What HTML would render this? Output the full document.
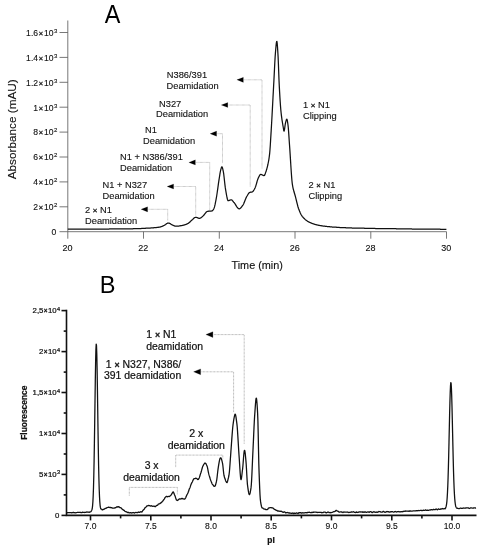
<!DOCTYPE html>
<html><head><meta charset="utf-8"><title>Figure</title>
<style>html,body{margin:0;padding:0;background:#fff}svg{display:block}</style>
</head><body>
<svg width="484" height="550" viewBox="0 0 484 550">
<rect width="484" height="550" fill="#fff"/>
<g id="chartA" font-family="'Liberation Sans', sans-serif" fill="#111" stroke="#111" stroke-width="0.12">
<g stroke="#555" stroke-width="0.8" fill="none">
<path d="M67.8,20.5 V231.7 H446.5"/>
<path d="M59.5,231.7 H67.8"/>
<path d="M59.5,206.8 H67.8"/>
<path d="M59.5,181.9 H67.8"/>
<path d="M59.5,157.0 H67.8"/>
<path d="M59.5,132.1 H67.8"/>
<path d="M59.5,107.2 H67.8"/>
<path d="M59.5,82.3 H67.8"/>
<path d="M59.5,57.4 H67.8"/>
<path d="M59.5,32.5 H67.8"/>
<path d="M67.8,231.7 V238.7"/>
<path d="M143.5,231.7 V238.7"/>
<path d="M219.3,231.7 V238.7"/>
<path d="M295.0,231.7 V238.7"/>
<path d="M370.8,231.7 V238.7"/>
<path d="M446.5,231.7 V238.7"/>
</g>
<text x="56.2" y="235.0" font-size="8.6" text-anchor="end">0</text>
<text x="57.4" y="210.1" font-size="8.6" text-anchor="end">2<tspan dx="0.7" font-size="7.4" font-weight="bold">×</tspan><tspan dx="0.9">10</tspan><tspan font-size="6" dx="0.5" dy="-3">2</tspan></text>
<text x="57.4" y="185.2" font-size="8.6" text-anchor="end">4<tspan dx="0.7" font-size="7.4" font-weight="bold">×</tspan><tspan dx="0.9">10</tspan><tspan font-size="6" dx="0.5" dy="-3">2</tspan></text>
<text x="57.4" y="160.3" font-size="8.6" text-anchor="end">6<tspan dx="0.7" font-size="7.4" font-weight="bold">×</tspan><tspan dx="0.9">10</tspan><tspan font-size="6" dx="0.5" dy="-3">2</tspan></text>
<text x="57.4" y="135.4" font-size="8.6" text-anchor="end">8<tspan dx="0.7" font-size="7.4" font-weight="bold">×</tspan><tspan dx="0.9">10</tspan><tspan font-size="6" dx="0.5" dy="-3">2</tspan></text>
<text x="57.4" y="110.5" font-size="8.6" text-anchor="end">1<tspan dx="0.7" font-size="7.4" font-weight="bold">×</tspan><tspan dx="0.9">10</tspan><tspan font-size="6" dx="0.5" dy="-3">3</tspan></text>
<text x="57.4" y="85.6" font-size="8.6" text-anchor="end">1.2<tspan dx="0.7" font-size="7.4" font-weight="bold">×</tspan><tspan dx="0.9">10</tspan><tspan font-size="6" dx="0.5" dy="-3">3</tspan></text>
<text x="57.4" y="60.7" font-size="8.6" text-anchor="end">1.4<tspan dx="0.7" font-size="7.4" font-weight="bold">×</tspan><tspan dx="0.9">10</tspan><tspan font-size="6" dx="0.5" dy="-3">3</tspan></text>
<text x="57.4" y="35.8" font-size="8.6" text-anchor="end">1.6<tspan dx="0.7" font-size="7.4" font-weight="bold">×</tspan><tspan dx="0.9">10</tspan><tspan font-size="6" dx="0.5" dy="-3">3</tspan></text>
<text x="67.5" y="250.5" font-size="9" text-anchor="middle">20</text>
<text x="143.2" y="250.5" font-size="9" text-anchor="middle">22</text>
<text x="219.0" y="250.5" font-size="9" text-anchor="middle">24</text>
<text x="294.7" y="250.5" font-size="9" text-anchor="middle">26</text>
<text x="370.5" y="250.5" font-size="9" text-anchor="middle">28</text>
<text x="446.2" y="250.5" font-size="9" text-anchor="middle">30</text>
<text x="257.2" y="269.4" font-size="10.85" text-anchor="middle">Time (min)</text>
<text transform="translate(15.8,129.3) rotate(-90)" font-size="11.75" text-anchor="middle">Absorbance (mAU)</text>
<text transform="translate(112.65,23.2) scale(1,1.12)" font-size="23.4" text-anchor="middle" fill="#000" stroke="none">A</text>
<path d="M148.6,209.3 H167.7 V220.5" fill="none" stroke="#9c9c9c" stroke-width="0.7" stroke-dasharray="0.7 0.5"/>
<path d="M141,209.3 L147.6,206.70000000000002 V211.9 Z" fill="#000"/>
<path d="M174.6,186.5 H195.7 V215.5" fill="none" stroke="#9c9c9c" stroke-width="0.7" stroke-dasharray="0.7 0.5"/>
<path d="M167,186.5 L173.6,183.9 V189.1 Z" fill="#000"/>
<path d="M196.4,162.4 H209.7 V210.6" fill="none" stroke="#9c9c9c" stroke-width="0.7" stroke-dasharray="0.7 0.5"/>
<path d="M188.8,162.4 L195.4,159.8 V165.0 Z" fill="#000"/>
<path d="M217.6,133.7 H222.5 V163.5" fill="none" stroke="#9c9c9c" stroke-width="0.7" stroke-dasharray="0.7 0.5"/>
<path d="M210,133.7 L216.6,131.1 V136.29999999999998 Z" fill="#000"/>
<path d="M228.79999999999998,105 H250.2 V187" fill="none" stroke="#9c9c9c" stroke-width="0.7" stroke-dasharray="0.7 0.5"/>
<path d="M221.2,105 L227.79999999999998,102.4 V107.6 Z" fill="#000"/>
<path d="M244.4,79.8 H262.0 V168.4" fill="none" stroke="#9c9c9c" stroke-width="0.7" stroke-dasharray="0.7 0.5"/>
<path d="M236.8,79.8 L243.4,77.2 V82.39999999999999 Z" fill="#000"/>
<text font-size="9.3" text-anchor="start"><tspan x="85" y="212.8">2 <tspan font-size="0.84em" font-weight="bold">×</tspan> N1</tspan><tspan x="85" y="223.70000000000002">Deamidation</tspan></text>
<text font-size="9.3" text-anchor="start"><tspan x="102.5" y="188.0">N1 + N327</tspan><tspan x="102.5" y="198.9">Deamidation</tspan></text>
<text font-size="9.3" text-anchor="start"><tspan x="120" y="160.4">N1 + N386/391</tspan><tspan x="120" y="171.0">Deamidation</tspan></text>
<text font-size="9.3" text-anchor="start"><tspan x="145" y="132.9">N1</tspan><tspan x="143" y="143.5">Deamidation</tspan></text>
<text font-size="9.3" text-anchor="start"><tspan x="159" y="106.6">N327</tspan><tspan x="156" y="117.3">Deamidation</tspan></text>
<text font-size="9.3" text-anchor="start"><tspan x="166.8" y="77.5">N386/391</tspan><tspan x="166.5" y="88.7">Deamidation</tspan></text>
<text font-size="9.3" text-anchor="start"><tspan x="303" y="108.2">1 <tspan font-size="0.84em" font-weight="bold">×</tspan> N1</tspan><tspan x="303" y="118.8">Clipping</tspan></text>
<text font-size="9.3" text-anchor="start"><tspan x="308.5" y="187.9">2 <tspan font-size="0.84em" font-weight="bold">×</tspan> N1</tspan><tspan x="308.5" y="199.0">Clipping</tspan></text>
<path d="M67.8,229.2 L68.1,229.2 L68.4,229.2 L68.7,229.2 L69.0,229.2 L69.3,229.2 L69.6,229.2 L69.9,229.2 L70.2,229.2 L70.5,229.2 L70.8,229.2 L71.1,229.2 L71.4,229.2 L71.7,229.2 L72.0,229.2 L72.3,229.2 L72.6,229.2 L72.9,229.2 L73.2,229.2 L73.5,229.2 L73.8,229.2 L74.1,229.2 L74.4,229.2 L74.7,229.2 L75.0,229.2 L75.3,229.2 L75.6,229.2 L75.9,229.2 L76.2,229.1 L76.5,229.1 L76.8,229.1 L77.1,229.1 L77.4,229.1 L77.7,229.1 L78.0,229.1 L78.3,229.1 L78.6,229.1 L78.9,229.1 L79.2,229.1 L79.5,229.1 L79.8,229.1 L80.1,229.1 L80.4,229.1 L80.7,229.1 L81.0,229.1 L81.3,229.1 L81.6,229.1 L81.9,229.1 L82.2,229.1 L82.5,229.1 L82.8,229.1 L83.1,229.1 L83.4,229.1 L83.7,229.1 L84.0,229.1 L84.3,229.1 L84.6,229.1 L84.9,229.1 L85.2,229.1 L85.5,229.1 L85.8,229.1 L86.1,229.1 L86.4,229.1 L86.7,229.1 L87.0,229.1 L87.3,229.1 L87.6,229.1 L87.9,229.1 L88.2,229.1 L88.5,229.1 L88.8,229.1 L89.1,229.1 L89.4,229.1 L89.7,229.1 L90.0,229.1 L90.3,229.1 L90.6,229.1 L90.9,229.1 L91.2,229.1 L91.5,229.1 L91.8,229.1 L92.1,229.1 L92.4,229.0 L92.7,229.0 L93.0,229.0 L93.3,229.0 L93.6,229.0 L93.9,229.0 L94.2,229.0 L94.5,229.0 L94.8,229.0 L95.1,229.0 L95.4,229.0 L95.7,229.0 L96.0,229.0 L96.3,229.0 L96.6,229.0 L96.9,229.0 L97.2,229.0 L97.5,229.0 L97.8,229.0 L98.1,229.0 L98.4,229.0 L98.7,229.0 L99.0,229.0 L99.3,229.0 L99.6,229.0 L99.9,229.0 L100.2,229.0 L100.5,229.0 L100.8,229.0 L101.1,229.0 L101.4,229.0 L101.7,229.0 L102.0,229.0 L102.3,229.0 L102.6,229.0 L102.9,229.0 L103.2,229.0 L103.5,229.0 L103.8,229.0 L104.1,229.0 L104.4,229.0 L104.7,229.0 L105.0,229.0 L105.3,229.0 L105.6,229.0 L105.9,229.0 L106.2,229.0 L106.5,229.0 L106.8,229.0 L107.1,229.0 L107.4,229.0 L107.7,229.0 L108.0,229.0 L108.3,229.0 L108.6,229.0 L108.9,229.0 L109.2,229.0 L109.5,228.9 L109.8,228.9 L110.1,228.9 L110.4,228.9 L110.7,228.9 L111.0,228.9 L111.3,228.9 L111.6,228.9 L111.9,228.9 L112.2,228.9 L112.5,228.9 L112.8,228.9 L113.1,228.9 L113.4,228.9 L113.7,228.9 L114.0,228.9 L114.3,228.9 L114.6,228.9 L114.9,228.9 L115.2,228.9 L115.5,228.9 L115.8,228.9 L116.1,228.9 L116.4,228.9 L116.7,228.9 L117.0,228.9 L117.3,228.9 L117.6,228.9 L117.9,228.9 L118.2,228.9 L118.5,228.9 L118.8,228.9 L119.1,228.9 L119.4,228.9 L119.7,228.9 L120.0,228.9 L120.3,228.9 L120.6,228.9 L120.9,228.9 L121.2,228.9 L121.5,228.9 L121.8,228.9 L122.1,228.9 L122.4,228.9 L122.7,228.9 L123.0,228.9 L123.3,228.9 L123.6,228.9 L123.9,228.9 L124.2,228.9 L124.5,228.9 L124.8,228.9 L125.1,228.9 L125.4,228.8 L125.7,228.8 L126.0,228.8 L126.3,228.8 L126.6,228.8 L126.9,228.8 L127.2,228.8 L127.5,228.8 L127.8,228.8 L128.1,228.8 L128.4,228.8 L128.7,228.8 L129.0,228.8 L129.3,228.8 L129.6,228.8 L129.9,228.8 L130.2,228.8 L130.5,228.8 L130.8,228.8 L131.1,228.8 L131.4,228.8 L131.7,228.8 L132.0,228.8 L132.3,228.8 L132.6,228.8 L132.9,228.8 L133.2,228.7 L133.5,228.7 L133.8,228.7 L134.1,228.7 L134.4,228.7 L134.7,228.7 L135.0,228.7 L135.3,228.7 L135.6,228.7 L135.9,228.7 L136.2,228.7 L136.5,228.7 L136.8,228.6 L137.1,228.6 L137.4,228.6 L137.7,228.6 L138.0,228.6 L138.3,228.6 L138.6,228.6 L138.9,228.6 L139.2,228.6 L139.5,228.5 L139.8,228.5 L140.1,228.5 L140.4,228.5 L140.7,228.5 L141.0,228.5 L141.3,228.5 L141.6,228.4 L141.9,228.4 L142.2,228.4 L142.5,228.4 L142.8,228.4 L143.1,228.4 L143.4,228.4 L143.7,228.3 L144.0,228.3 L144.3,228.3 L144.6,228.3 L144.9,228.3 L145.2,228.3 L145.5,228.3 L145.8,228.2 L146.1,228.2 L146.4,228.2 L146.7,228.2 L147.0,228.2 L147.3,228.2 L147.6,228.1 L147.9,228.1 L148.2,228.1 L148.5,228.1 L148.8,228.1 L149.1,228.1 L149.4,228.0 L149.7,228.0 L150.0,228.0 L150.3,228.0 L150.6,228.0 L150.9,227.9 L151.2,227.9 L151.5,227.9 L151.8,227.9 L152.1,227.9 L152.4,227.8 L152.7,227.8 L153.0,227.8 L153.3,227.8 L153.6,227.8 L153.9,227.7 L154.2,227.7 L154.5,227.7 L154.8,227.7 L155.1,227.6 L155.4,227.6 L155.7,227.6 L156.0,227.5 L156.3,227.5 L156.6,227.5 L156.9,227.4 L157.2,227.4 L157.5,227.4 L157.8,227.3 L158.1,227.3 L158.4,227.3 L158.7,227.2 L159.0,227.2 L159.3,227.1 L159.6,227.1 L159.9,227.0 L160.2,227.0 L160.5,226.9 L160.8,226.8 L161.1,226.7 L161.4,226.6 L161.7,226.5 L162.0,226.4 L162.3,226.3 L162.6,226.1 L162.9,226.0 L163.2,225.9 L163.5,225.7 L163.8,225.6 L164.1,225.5 L164.4,225.3 L164.7,225.1 L165.0,224.9 L165.3,224.7 L165.6,224.5 L165.9,224.2 L166.2,224.0 L166.5,223.8 L166.8,223.6 L167.1,223.4 L167.4,223.2 L167.7,223.1 L168.0,223.0 L168.3,223.0 L168.6,223.0 L168.9,223.1 L169.2,223.2 L169.5,223.3 L169.8,223.5 L170.1,223.6 L170.4,223.8 L170.7,224.0 L171.0,224.2 L171.3,224.4 L171.6,224.6 L171.9,224.8 L172.2,224.9 L172.5,225.0 L172.8,225.2 L173.1,225.3 L173.4,225.5 L173.7,225.6 L174.0,225.7 L174.3,225.8 L174.6,226.0 L174.9,226.1 L175.2,226.1 L175.5,226.2 L175.8,226.2 L176.1,226.2 L176.4,226.2 L176.7,226.2 L177.0,226.2 L177.3,226.1 L177.6,226.1 L177.9,226.1 L178.2,226.1 L178.5,226.0 L178.8,226.0 L179.1,226.0 L179.4,225.9 L179.7,225.9 L180.0,225.8 L180.3,225.8 L180.6,225.7 L180.9,225.7 L181.2,225.6 L181.5,225.6 L181.8,225.5 L182.1,225.5 L182.4,225.4 L182.7,225.4 L183.0,225.3 L183.3,225.2 L183.6,225.2 L183.9,225.1 L184.2,225.0 L184.5,224.9 L184.8,224.8 L185.1,224.7 L185.4,224.6 L185.7,224.5 L186.0,224.4 L186.3,224.3 L186.6,224.1 L186.9,224.0 L187.2,223.9 L187.5,223.7 L187.8,223.6 L188.1,223.4 L188.4,223.3 L188.7,223.1 L189.0,222.8 L189.3,222.6 L189.6,222.3 L189.9,222.0 L190.2,221.7 L190.5,221.4 L190.8,221.1 L191.1,220.8 L191.4,220.5 L191.7,220.2 L192.0,220.0 L192.3,219.7 L192.6,219.5 L192.9,219.2 L193.2,218.9 L193.5,218.6 L193.8,218.3 L194.1,218.1 L194.4,217.8 L194.7,217.6 L195.0,217.5 L195.3,217.4 L195.6,217.3 L195.9,217.3 L196.2,217.3 L196.5,217.4 L196.8,217.5 L197.1,217.6 L197.4,217.7 L197.7,217.9 L198.0,218.0 L198.3,218.1 L198.6,218.2 L198.9,218.3 L199.2,218.3 L199.5,218.3 L199.8,218.3 L200.1,218.2 L200.4,218.0 L200.7,217.9 L201.0,217.7 L201.3,217.4 L201.6,217.2 L201.9,216.9 L202.2,216.7 L202.5,216.4 L202.8,216.2 L203.1,215.9 L203.4,215.6 L203.7,215.3 L204.0,215.0 L204.3,214.6 L204.6,214.2 L204.9,213.8 L205.2,213.4 L205.5,213.0 L205.8,212.6 L206.1,212.3 L206.4,212.0 L206.7,211.8 L207.0,211.6 L207.3,211.4 L207.6,211.4 L207.9,211.3 L208.2,211.3 L208.5,211.2 L208.8,211.2 L209.1,211.1 L209.4,211.1 L209.7,211.1 L210.0,211.1 L210.3,211.0 L210.6,211.0 L210.9,211.0 L211.2,211.0 L211.5,211.0 L211.8,210.9 L212.1,210.9 L212.4,210.7 L212.7,210.4 L213.0,210.1 L213.3,209.6 L213.6,209.1 L213.9,208.5 L214.2,207.8 L214.5,206.9 L214.8,205.7 L215.1,204.4 L215.4,202.9 L215.7,201.4 L216.0,199.8 L216.3,198.2 L216.6,196.5 L216.9,194.5 L217.2,192.5 L217.5,190.4 L217.8,188.3 L218.1,186.1 L218.4,183.9 L218.7,181.9 L219.0,179.9 L219.3,178.0 L219.6,176.1 L219.9,174.1 L220.2,172.4 L220.5,170.9 L220.8,169.7 L221.1,168.6 L221.4,167.6 L221.7,166.9 L222.0,166.8 L222.3,167.4 L222.6,168.3 L222.9,169.6 L223.2,171.0 L223.5,172.6 L223.8,174.7 L224.1,177.2 L224.4,180.0 L224.7,182.8 L225.0,185.4 L225.3,187.7 L225.6,189.6 L225.9,191.3 L226.2,193.1 L226.5,194.9 L226.8,196.5 L227.1,198.0 L227.4,199.2 L227.7,200.1 L228.0,200.6 L228.3,200.7 L228.6,200.7 L228.9,200.6 L229.2,200.5 L229.5,200.3 L229.8,200.2 L230.1,200.1 L230.4,200.0 L230.7,199.9 L231.0,199.8 L231.3,199.8 L231.6,199.9 L231.9,200.1 L232.2,200.3 L232.5,200.7 L232.8,201.0 L233.1,201.4 L233.4,201.8 L233.7,202.2 L234.0,202.5 L234.3,202.8 L234.6,203.2 L234.9,203.7 L235.2,204.1 L235.5,204.6 L235.8,205.1 L236.1,205.6 L236.4,206.1 L236.7,206.6 L237.0,207.0 L237.3,207.4 L237.6,207.8 L237.9,208.1 L238.2,208.4 L238.5,208.6 L238.8,208.8 L239.1,208.8 L239.4,208.8 L239.7,208.7 L240.0,208.5 L240.3,208.3 L240.6,208.0 L240.9,207.7 L241.2,207.4 L241.5,207.0 L241.8,206.6 L242.1,206.2 L242.4,205.8 L242.7,205.4 L243.0,205.0 L243.3,204.5 L243.6,204.0 L243.9,203.3 L244.2,202.6 L244.5,201.8 L244.8,201.0 L245.1,200.2 L245.4,199.4 L245.7,198.7 L246.0,198.0 L246.3,197.4 L246.6,196.8 L246.9,196.3 L247.2,195.8 L247.5,195.2 L247.8,194.7 L248.1,194.2 L248.4,193.7 L248.7,193.3 L249.0,193.0 L249.3,192.7 L249.6,192.5 L249.9,192.4 L250.2,192.3 L250.5,192.2 L250.8,192.2 L251.1,192.1 L251.4,192.1 L251.7,192.1 L252.0,192.0 L252.3,191.9 L252.6,191.7 L252.9,191.5 L253.2,191.1 L253.5,190.7 L253.8,190.2 L254.1,189.7 L254.4,189.2 L254.7,188.6 L255.0,188.0 L255.3,187.3 L255.6,186.5 L255.9,185.6 L256.2,184.6 L256.5,183.6 L256.8,182.5 L257.1,181.4 L257.4,180.4 L257.7,179.5 L258.0,178.7 L258.3,178.0 L258.6,177.4 L258.9,176.8 L259.2,176.2 L259.5,175.6 L259.8,175.1 L260.1,174.7 L260.4,174.5 L260.7,174.4 L261.0,174.4 L261.3,174.5 L261.6,174.6 L261.9,174.7 L262.2,174.9 L262.5,175.1 L262.8,175.2 L263.1,175.3 L263.4,175.5 L263.7,175.6 L264.0,175.6 L264.3,175.5 L264.6,175.2 L264.9,174.6 L265.2,173.8 L265.5,172.9 L265.8,172.1 L266.1,171.2 L266.4,170.3 L266.7,169.3 L267.0,168.2 L267.3,167.1 L267.6,165.8 L267.9,164.5 L268.2,163.0 L268.5,161.5 L268.8,159.8 L269.1,157.9 L269.4,155.7 L269.7,153.1 L270.0,149.5 L270.3,145.2 L270.6,140.3 L270.9,135.3 L271.2,130.4 L271.5,125.3 L271.8,120.0 L272.1,114.5 L272.4,108.9 L272.7,103.2 L273.0,97.5 L273.3,91.9 L273.6,86.3 L273.9,80.7 L274.2,74.8 L274.5,68.7 L274.8,62.8 L275.1,57.5 L275.4,53.2 L275.7,49.7 L276.0,46.3 L276.3,43.4 L276.6,41.6 L276.9,41.4 L277.2,43.4 L277.5,47.1 L277.8,51.8 L278.1,56.8 L278.4,63.7 L278.7,72.1 L279.0,80.1 L279.3,86.4 L279.6,91.9 L279.9,97.1 L280.2,101.8 L280.5,106.1 L280.8,109.7 L281.1,112.7 L281.4,115.4 L281.7,117.7 L282.0,119.8 L282.3,121.7 L282.6,123.5 L282.9,125.3 L283.2,127.0 L283.5,129.0 L283.8,130.8 L284.1,131.1 L284.4,130.1 L284.7,128.2 L285.0,126.0 L285.3,124.0 L285.6,122.6 L285.9,121.4 L286.2,120.3 L286.5,119.4 L286.8,119.1 L287.1,119.6 L287.4,121.0 L287.7,122.9 L288.0,125.0 L288.3,127.8 L288.6,131.6 L288.9,135.9 L289.2,140.5 L289.5,144.8 L289.8,149.0 L290.1,153.6 L290.4,158.4 L290.7,163.3 L291.0,168.0 L291.3,172.5 L291.6,176.6 L291.9,180.2 L292.2,183.1 L292.5,185.1 L292.8,186.8 L293.1,188.3 L293.4,189.5 L293.7,190.7 L294.0,191.8 L294.3,192.8 L294.6,193.8 L294.9,194.8 L295.2,195.8 L295.5,196.9 L295.8,198.1 L296.1,199.3 L296.4,200.5 L296.7,201.8 L297.0,203.0 L297.3,204.2 L297.6,205.4 L297.9,206.5 L298.2,207.5 L298.5,208.5 L298.8,209.3 L299.1,210.1 L299.4,210.8 L299.7,211.6 L300.0,212.3 L300.3,212.9 L300.6,213.6 L300.9,214.2 L301.2,214.7 L301.5,215.2 L301.8,215.7 L302.1,216.2 L302.4,216.6 L302.7,216.9 L303.0,217.3 L303.3,217.6 L303.6,217.9 L303.9,218.3 L304.2,218.6 L304.5,218.8 L304.8,219.1 L305.1,219.4 L305.4,219.7 L305.7,219.9 L306.0,220.1 L306.3,220.4 L306.6,220.6 L306.9,220.8 L307.2,221.0 L307.5,221.2 L307.8,221.4 L308.1,221.6 L308.4,221.7 L308.7,221.9 L309.0,222.1 L309.3,222.2 L309.6,222.3 L309.9,222.5 L310.2,222.6 L310.5,222.7 L310.8,222.9 L311.1,223.0 L311.4,223.1 L311.7,223.2 L312.0,223.4 L312.3,223.5 L312.6,223.6 L312.9,223.7 L313.2,223.8 L313.5,223.9 L313.8,224.0 L314.1,224.1 L314.4,224.2 L314.7,224.3 L315.0,224.4 L315.3,224.5 L315.6,224.6 L315.9,224.6 L316.2,224.7 L316.5,224.8 L316.8,224.9 L317.1,224.9 L317.4,225.0 L317.7,225.1 L318.0,225.1 L318.3,225.2 L318.6,225.3 L318.9,225.3 L319.2,225.4 L319.5,225.4 L319.8,225.5 L320.1,225.5 L320.4,225.6 L320.7,225.6 L321.0,225.7 L321.3,225.7 L321.6,225.8 L321.9,225.8 L322.2,225.9 L322.5,225.9 L322.8,226.0 L323.1,226.0 L323.4,226.0 L323.7,226.1 L324.0,226.1 L324.3,226.2 L324.6,226.2 L324.9,226.2 L325.2,226.3 L325.5,226.3 L325.8,226.3 L326.1,226.4 L326.4,226.4 L326.7,226.4 L327.0,226.5 L327.3,226.5 L327.6,226.5 L327.9,226.6 L328.2,226.6 L328.5,226.6 L328.8,226.7 L329.1,226.7 L329.4,226.7 L329.7,226.7 L330.0,226.8 L330.3,226.8 L330.6,226.8 L330.9,226.9 L331.2,226.9 L331.5,226.9 L331.8,226.9 L332.1,227.0 L332.4,227.0 L332.7,227.0 L333.0,227.0 L333.3,227.0 L333.6,227.1 L333.9,227.1 L334.2,227.1 L334.5,227.1 L334.8,227.1 L335.1,227.2 L335.4,227.2 L335.7,227.2 L336.0,227.2 L336.3,227.2 L336.6,227.3 L336.9,227.3 L337.2,227.3 L337.5,227.3 L337.8,227.3 L338.1,227.4 L338.4,227.4 L338.7,227.4 L339.0,227.4 L339.3,227.4 L339.6,227.5 L339.9,227.5 L340.2,227.5 L340.5,227.5 L340.8,227.5 L341.1,227.5 L341.4,227.5 L341.7,227.6 L342.0,227.6 L342.3,227.6 L342.6,227.6 L342.9,227.6 L343.2,227.6 L343.5,227.7 L343.8,227.7 L344.1,227.7 L344.4,227.7 L344.7,227.7 L345.0,227.7 L345.3,227.7 L345.6,227.7 L345.9,227.8 L346.2,227.8 L346.5,227.8 L346.8,227.8 L347.1,227.8 L347.4,227.8 L347.7,227.8 L348.0,227.8 L348.3,227.8 L348.6,227.9 L348.9,227.9 L349.2,227.9 L349.5,227.9 L349.8,227.9 L350.1,227.9 L350.4,227.9 L350.7,227.9 L351.0,227.9 L351.3,227.9 L351.6,227.9 L351.9,228.0 L352.2,228.0 L352.5,228.0 L352.8,228.0 L353.1,228.0 L353.4,228.0 L353.7,228.0 L354.0,228.0 L354.3,228.0 L354.6,228.0 L354.9,228.0 L355.2,228.0 L355.5,228.0 L355.8,228.1 L356.1,228.1 L356.4,228.1 L356.7,228.1 L357.0,228.1 L357.3,228.1 L357.6,228.1 L357.9,228.1 L358.2,228.1 L358.5,228.1 L358.8,228.1 L359.1,228.1 L359.4,228.1 L359.7,228.2 L360.0,228.2 L360.3,228.2 L360.6,228.2 L360.9,228.2 L361.2,228.2 L361.5,228.2 L361.8,228.2 L362.1,228.2 L362.4,228.2 L362.7,228.2 L363.0,228.2 L363.3,228.2 L363.6,228.2 L363.9,228.2 L364.2,228.2 L364.5,228.3 L364.8,228.3 L365.1,228.3 L365.4,228.3 L365.7,228.3 L366.0,228.3 L366.3,228.3 L366.6,228.3 L366.9,228.3 L367.2,228.3 L367.5,228.3 L367.8,228.3 L368.1,228.3 L368.4,228.3 L368.7,228.3 L369.0,228.3 L369.3,228.3 L369.6,228.4 L369.9,228.4 L370.2,228.4 L370.5,228.4 L370.8,228.4 L371.1,228.4 L371.4,228.4 L371.7,228.4 L372.0,228.4 L372.3,228.4 L372.6,228.4 L372.9,228.4 L373.2,228.4 L373.5,228.4 L373.8,228.4 L374.1,228.4 L374.4,228.4 L374.7,228.4 L375.0,228.4 L375.3,228.5 L375.6,228.5 L375.9,228.5 L376.2,228.5 L376.5,228.5 L376.8,228.5 L377.1,228.5 L377.4,228.5 L377.7,228.5 L378.0,228.5 L378.3,228.5 L378.6,228.5 L378.9,228.5 L379.2,228.5 L379.5,228.5 L379.8,228.5 L380.1,228.5 L380.4,228.5 L380.7,228.5 L381.0,228.5 L381.3,228.5 L381.6,228.5 L381.9,228.6 L382.2,228.6 L382.5,228.6 L382.8,228.6 L383.1,228.6 L383.4,228.6 L383.7,228.6 L384.0,228.6 L384.3,228.6 L384.6,228.6 L384.9,228.6 L385.2,228.6 L385.5,228.6 L385.8,228.6 L386.1,228.6 L386.4,228.6 L386.7,228.6 L387.0,228.6 L387.3,228.6 L387.6,228.6 L387.9,228.6 L388.2,228.6 L388.5,228.6 L388.8,228.7 L389.1,228.7 L389.4,228.7 L389.7,228.7 L390.0,228.7 L390.3,228.7 L390.6,228.7 L390.9,228.7 L391.2,228.7 L391.5,228.7 L391.8,228.7 L392.1,228.7 L392.4,228.7 L392.7,228.7 L393.0,228.7 L393.3,228.7 L393.6,228.7 L393.9,228.7 L394.2,228.7 L394.5,228.7 L394.8,228.7 L395.1,228.7 L395.4,228.7 L395.7,228.7 L396.0,228.7 L396.3,228.8 L396.6,228.8 L396.9,228.8 L397.2,228.8 L397.5,228.8 L397.8,228.8 L398.1,228.8 L398.4,228.8 L398.7,228.8 L399.0,228.8 L399.3,228.8 L399.6,228.8 L399.9,228.8 L400.2,228.8 L400.5,228.8 L400.8,228.8 L401.1,228.8 L401.4,228.8 L401.7,228.8 L402.0,228.8 L402.3,228.8 L402.6,228.8 L402.9,228.8 L403.2,228.8 L403.5,228.8 L403.8,228.9 L404.1,228.9 L404.4,228.9 L404.7,228.9 L405.0,228.9 L405.3,228.9 L405.6,228.9 L405.9,228.9 L406.2,228.9 L406.5,228.9 L406.8,228.9 L407.1,228.9 L407.4,228.9 L407.7,228.9 L408.0,228.9 L408.3,228.9 L408.6,228.9 L408.9,228.9 L409.2,228.9 L409.5,228.9 L409.8,228.9 L410.1,228.9 L410.4,228.9 L410.7,228.9 L411.0,228.9 L411.3,228.9 L411.6,228.9 L411.9,229.0 L412.2,229.0 L412.5,229.0 L412.8,229.0 L413.1,229.0 L413.4,229.0 L413.7,229.0 L414.0,229.0 L414.3,229.0 L414.6,229.0 L414.9,229.0 L415.2,229.0 L415.5,229.0 L415.8,229.0 L416.1,229.0 L416.4,229.0 L416.7,229.0 L417.0,229.0 L417.3,229.0 L417.6,229.0 L417.9,229.0 L418.2,229.0 L418.5,229.0 L418.8,229.0 L419.1,229.0 L419.4,229.0 L419.7,229.0 L420.0,229.0 L420.3,229.1 L420.6,229.1 L420.9,229.1 L421.2,229.1 L421.5,229.1 L421.8,229.1 L422.1,229.1 L422.4,229.1 L422.7,229.1 L423.0,229.1 L423.3,229.1 L423.6,229.1 L423.9,229.1 L424.2,229.1 L424.5,229.1 L424.8,229.1 L425.1,229.1 L425.4,229.1 L425.7,229.1 L426.0,229.1 L426.3,229.1 L426.6,229.1 L426.9,229.1 L427.2,229.1 L427.5,229.1 L427.8,229.1 L428.1,229.1 L428.4,229.1 L428.7,229.1 L429.0,229.1 L429.3,229.1 L429.6,229.2 L429.9,229.2 L430.2,229.2 L430.5,229.2 L430.8,229.2 L431.1,229.2 L431.4,229.2 L431.7,229.2 L432.0,229.2 L432.3,229.2 L432.6,229.2 L432.9,229.2 L433.2,229.2 L433.5,229.2 L433.8,229.2 L434.1,229.2 L434.4,229.2 L434.7,229.2 L435.0,229.2 L435.3,229.2 L435.6,229.2 L435.9,229.2 L436.2,229.2 L436.5,229.2 L436.8,229.2 L437.1,229.2 L437.4,229.2 L437.7,229.2 L438.0,229.2 L438.3,229.2 L438.6,229.2 L438.9,229.2 L439.2,229.2 L439.5,229.2 L439.8,229.2 L440.1,229.2 L440.4,229.3 L440.7,229.3 L441.0,229.3 L441.3,229.3 L441.6,229.3 L441.9,229.3 L442.2,229.3 L442.5,229.3 L442.8,229.3 L443.1,229.3 L443.4,229.3 L443.7,229.3 L444.0,229.3 L444.3,229.3 L444.6,229.3 L444.9,229.3 L445.2,229.3 L445.5,229.3 L445.8,229.3 L446.1,229.3 L446.4,229.3" fill="none" stroke="#111" stroke-width="1.25" stroke-linejoin="round"/>
</g>
<g id="chartB" font-family="'Liberation Sans', sans-serif" fill="#111" stroke="#111" stroke-width="0.22">
<g stroke="#111" stroke-width="1.6" fill="none">
<path d="M66.5,309.7 V515.4 H476.5"/>
<path d="M61.5,515.4 H66.5"/>
<path d="M63.7,494.9 H66.5"/>
<path d="M61.5,474.4 H66.5"/>
<path d="M63.7,454.0 H66.5"/>
<path d="M61.5,433.5 H66.5"/>
<path d="M63.7,413.0 H66.5"/>
<path d="M61.5,392.5 H66.5"/>
<path d="M63.7,372.1 H66.5"/>
<path d="M61.5,351.6 H66.5"/>
<path d="M63.7,331.1 H66.5"/>
<path d="M61.5,310.6 H66.5"/>
<path d="M90.5,515.4 V520.4"/>
<path d="M120.6,515.4 V518.4"/>
<path d="M150.8,515.4 V520.4"/>
<path d="M180.9,515.4 V518.4"/>
<path d="M211.0,515.4 V520.4"/>
<path d="M241.1,515.4 V518.4"/>
<path d="M271.2,515.4 V520.4"/>
<path d="M301.4,515.4 V518.4"/>
<path d="M331.5,515.4 V520.4"/>
<path d="M361.6,515.4 V518.4"/>
<path d="M391.8,515.4 V520.4"/>
<path d="M421.9,515.4 V518.4"/>
<path d="M452.0,515.4 V520.4"/>
</g>
<text x="59.3" y="518.2" font-size="7.8" text-anchor="end">0</text>
<text x="60" y="477.2" font-size="7.8" text-anchor="end">5<tspan dx="0.3" font-size="6.4" font-weight="bold">×</tspan><tspan dx="0.4">10</tspan><tspan font-size="5.6" dx="0.3" dy="-2.8">3</tspan></text>
<text x="60" y="436.3" font-size="7.8" text-anchor="end">1<tspan dx="0.3" font-size="6.4" font-weight="bold">×</tspan><tspan dx="0.4">10</tspan><tspan font-size="5.6" dx="0.3" dy="-2.8">4</tspan></text>
<text x="60" y="395.3" font-size="7.8" text-anchor="end">1,5<tspan dx="0.3" font-size="6.4" font-weight="bold">×</tspan><tspan dx="0.4">10</tspan><tspan font-size="5.6" dx="0.3" dy="-2.8">4</tspan></text>
<text x="60" y="354.4" font-size="7.8" text-anchor="end">2<tspan dx="0.3" font-size="6.4" font-weight="bold">×</tspan><tspan dx="0.4">10</tspan><tspan font-size="5.6" dx="0.3" dy="-2.8">4</tspan></text>
<text x="60" y="313.4" font-size="7.8" text-anchor="end">2,5<tspan dx="0.3" font-size="6.4" font-weight="bold">×</tspan><tspan dx="0.4">10</tspan><tspan font-size="5.6" dx="0.3" dy="-2.8">4</tspan></text>
<text x="90.5" y="529.4" font-size="8.5" text-anchor="middle" stroke-width="0.12">7.0</text>
<text x="150.8" y="529.4" font-size="8.5" text-anchor="middle" stroke-width="0.12">7.5</text>
<text x="211.0" y="529.4" font-size="8.5" text-anchor="middle" stroke-width="0.12">8.0</text>
<text x="271.2" y="529.4" font-size="8.5" text-anchor="middle" stroke-width="0.12">8.5</text>
<text x="331.5" y="529.4" font-size="8.5" text-anchor="middle" stroke-width="0.12">9.0</text>
<text x="391.8" y="529.4" font-size="8.5" text-anchor="middle" stroke-width="0.12">9.5</text>
<text x="452.0" y="529.4" font-size="8.5" text-anchor="middle" stroke-width="0.12">10.0</text>
<text x="271" y="543" font-size="8.4" font-weight="bold" text-anchor="middle">pI</text>
<text transform="translate(27.1,412.7) rotate(-90)" font-size="8.43" font-weight="bold" text-anchor="middle">Fluorescence</text>
<text transform="translate(107.5,293.2) scale(1,1.04)" font-size="23.6" text-anchor="middle" fill="#000" stroke="none">B</text>
<path d="M213.9,334.6 H244.2 V444.1" fill="none" stroke="#999" stroke-width="0.8" stroke-dasharray="0.8 0.6"/>
<path d="M205.9,334.6 L212.9,331.70000000000005 V337.5 Z" fill="#000"/>
<path d="M201.6,371.8 H233.6 V412.7" fill="none" stroke="#999" stroke-width="0.8" stroke-dasharray="0.8 0.6"/>
<path d="M193.6,371.8 L200.6,368.90000000000003 V374.7 Z" fill="#000"/>
<path d="M129.3,495.6 V487.4 H177.4 V494.4" fill="none" stroke="#999" stroke-width="0.8" stroke-dasharray="0.8 0.6"/>
<path d="M175.7,467.1 V455.1 H222.8 V458.6" fill="none" stroke="#999" stroke-width="0.8" stroke-dasharray="0.8 0.6"/>
<text font-size="10.45" text-anchor="start"><tspan x="146.2" y="337.9">1 <tspan font-size="0.84em" font-weight="bold">×</tspan> N1</tspan><tspan x="146.2" y="349.7">deamidation</tspan></text>
<text font-size="10.45" text-anchor="start"><tspan x="105.8" y="367.6">1 <tspan font-size="0.84em" font-weight="bold">×</tspan> N327, N386/</tspan><tspan x="104" y="379.1">391 deamidation</tspan></text>
<text font-size="10.4" text-anchor="middle"><tspan x="151.6" y="469.1">3 x</tspan><tspan x="151.6" y="481.1">deamidation</tspan></text>
<text font-size="10.5" text-anchor="middle"><tspan x="196.3" y="437.0">2 x</tspan><tspan x="196.3" y="448.7">deamidation</tspan></text>
<path d="M66.5,513.1 L66.8,513.0 L67.1,512.8 L67.4,512.7 L67.7,512.7 L68.0,512.7 L68.3,512.7 L68.6,512.7 L68.9,512.7 L69.2,512.7 L69.5,512.6 L69.8,512.6 L70.1,512.7 L70.4,512.7 L70.7,512.7 L71.0,512.7 L71.3,512.7 L71.6,512.8 L71.9,512.8 L72.2,512.7 L72.5,512.6 L72.8,512.5 L73.1,512.5 L73.4,512.5 L73.7,512.5 L74.0,512.5 L74.3,512.6 L74.6,512.7 L74.9,512.8 L75.2,512.8 L75.5,512.8 L75.8,512.7 L76.1,512.6 L76.4,512.7 L76.7,512.6 L77.0,512.5 L77.3,512.4 L77.6,512.3 L77.9,512.3 L78.2,512.3 L78.5,512.3 L78.8,512.4 L79.1,512.4 L79.4,512.3 L79.7,512.3 L80.0,512.4 L80.3,512.4 L80.6,512.5 L80.9,512.5 L81.2,512.6 L81.5,512.6 L81.8,512.6 L82.1,512.4 L82.4,512.2 L82.7,512.2 L83.0,512.3 L83.3,512.3 L83.6,512.3 L83.9,512.3 L84.2,512.4 L84.5,512.5 L84.8,512.5 L85.1,512.4 L85.4,512.4 L85.7,512.4 L86.0,512.2 L86.3,512.1 L86.6,512.0 L86.9,512.0 L87.2,512.0 L87.5,512.2 L87.8,512.2 L88.1,512.2 L88.4,512.1 L88.7,512.2 L89.0,512.3 L89.3,512.3 L89.6,512.2 L89.9,511.9 L90.2,511.8 L90.5,511.8 L90.8,511.7 L91.1,511.4 L91.4,510.9 L91.7,510.3 L92.0,509.5 L92.3,508.1 L92.6,505.6 L92.9,501.6 L93.2,495.8 L93.5,487.4 L93.8,475.8 L94.1,460.9 L94.4,443.1 L94.7,422.8 L95.0,401.4 L95.3,380.7 L95.6,362.9 L95.9,350.1 L96.2,344.1 L96.5,345.7 L96.8,354.2 L97.1,368.7 L97.4,387.4 L97.7,408.4 L98.0,429.3 L98.3,448.6 L98.6,465.2 L98.9,478.6 L99.2,488.9 L99.5,496.5 L99.8,501.8 L100.1,505.3 L100.4,507.4 L100.7,508.6 L101.0,509.0 L101.3,509.1 L101.6,509.1 L101.9,509.4 L102.2,509.8 L102.5,509.9 L102.8,509.8 L103.1,509.6 L103.4,509.3 L103.7,509.3 L104.0,509.2 L104.3,509.1 L104.6,508.9 L104.9,508.7 L105.2,508.4 L105.5,508.3 L105.8,508.4 L106.1,508.3 L106.4,508.0 L106.7,507.8 L107.0,507.7 L107.3,507.6 L107.6,507.5 L107.9,507.4 L108.2,507.2 L108.5,507.2 L108.8,507.2 L109.1,507.4 L109.4,507.5 L109.7,507.5 L110.0,507.4 L110.3,507.3 L110.6,507.6 L110.9,507.8 L111.2,507.7 L111.5,507.7 L111.8,507.7 L112.1,507.9 L112.4,508.1 L112.7,508.2 L113.0,508.2 L113.3,508.1 L113.6,508.2 L113.9,508.2 L114.2,508.2 L114.5,508.0 L114.8,507.8 L115.1,507.7 L115.4,507.8 L115.7,507.7 L116.0,507.5 L116.3,507.2 L116.6,507.0 L116.9,506.7 L117.2,506.7 L117.5,506.9 L117.8,507.1 L118.1,507.1 L118.4,506.8 L118.7,506.6 L119.0,506.7 L119.3,507.1 L119.6,507.4 L119.9,507.6 L120.2,507.7 L120.5,507.7 L120.8,507.8 L121.1,507.9 L121.4,508.2 L121.7,508.6 L122.0,509.0 L122.3,509.2 L122.6,509.4 L122.9,509.6 L123.2,509.9 L123.5,510.1 L123.8,510.3 L124.1,510.4 L124.4,510.6 L124.7,511.0 L125.0,511.3 L125.3,511.5 L125.6,511.6 L125.9,511.7 L126.2,511.8 L126.5,511.8 L126.8,511.9 L127.1,512.2 L127.4,512.5 L127.7,512.6 L128.0,512.6 L128.3,512.4 L128.6,512.3 L128.9,512.5 L129.2,512.8 L129.5,512.9 L129.8,512.8 L130.1,512.8 L130.4,512.7 L130.7,512.6 L131.0,512.8 L131.3,512.9 L131.6,513.0 L131.9,513.0 L132.2,512.9 L132.5,512.7 L132.8,512.6 L133.1,512.5 L133.4,512.6 L133.7,512.7 L134.0,512.8 L134.3,513.0 L134.6,513.0 L134.9,512.9 L135.2,512.6 L135.5,512.5 L135.8,512.4 L136.1,512.4 L136.4,512.5 L136.7,512.6 L137.0,512.6 L137.3,512.6 L137.6,512.6 L137.9,512.4 L138.2,512.1 L138.5,512.0 L138.8,512.2 L139.1,512.4 L139.4,512.4 L139.7,512.3 L140.0,512.1 L140.3,511.9 L140.6,511.8 L140.9,511.7 L141.2,511.7 L141.5,512.0 L141.8,512.1 L142.1,511.8 L142.4,511.3 L142.7,510.7 L143.0,510.3 L143.3,510.1 L143.6,509.8 L143.9,509.5 L144.2,509.2 L144.5,508.7 L144.8,508.2 L145.1,507.7 L145.4,507.4 L145.7,507.2 L146.0,507.0 L146.3,506.7 L146.6,506.3 L146.9,505.9 L147.2,505.8 L147.5,505.8 L147.8,505.8 L148.1,505.6 L148.4,505.4 L148.7,505.5 L149.0,505.6 L149.3,505.5 L149.6,505.6 L149.9,505.7 L150.2,506.0 L150.5,506.1 L150.8,506.0 L151.1,505.8 L151.4,505.7 L151.7,505.9 L152.0,506.1 L152.3,506.2 L152.6,506.3 L152.9,506.4 L153.2,506.3 L153.5,506.2 L153.8,506.1 L154.1,506.1 L154.4,506.3 L154.7,506.4 L155.0,506.6 L155.3,506.7 L155.6,506.6 L155.9,506.2 L156.2,505.8 L156.5,505.5 L156.8,505.4 L157.1,505.4 L157.4,505.3 L157.7,505.0 L158.0,504.7 L158.3,504.2 L158.6,504.0 L158.9,503.9 L159.2,503.9 L159.5,503.9 L159.8,503.6 L160.1,503.4 L160.4,503.3 L160.7,503.0 L161.0,502.7 L161.3,502.6 L161.6,502.4 L161.9,502.0 L162.2,501.6 L162.5,501.3 L162.8,501.0 L163.1,500.7 L163.4,500.2 L163.7,499.8 L164.0,499.5 L164.3,499.0 L164.6,498.4 L164.9,497.9 L165.2,497.4 L165.5,497.1 L165.8,496.7 L166.1,496.5 L166.4,496.4 L166.7,496.4 L167.0,496.6 L167.3,496.8 L167.6,496.8 L167.9,496.6 L168.2,496.5 L168.5,496.4 L168.8,496.5 L169.1,496.6 L169.4,496.5 L169.7,496.2 L170.0,496.0 L170.3,495.8 L170.6,495.6 L170.9,495.2 L171.2,494.9 L171.5,494.4 L171.8,493.9 L172.1,493.4 L172.4,492.9 L172.7,492.4 L173.0,492.0 L173.3,492.0 L173.6,492.4 L173.9,493.2 L174.2,494.1 L174.5,494.8 L174.8,495.4 L175.1,496.1 L175.4,497.0 L175.7,498.0 L176.0,498.9 L176.3,499.8 L176.6,500.2 L176.9,500.2 L177.2,500.3 L177.5,500.5 L177.8,500.3 L178.1,500.0 L178.4,499.6 L178.7,499.4 L179.0,499.2 L179.3,499.0 L179.6,499.0 L179.9,498.9 L180.2,498.8 L180.5,498.8 L180.8,499.1 L181.1,499.0 L181.4,498.7 L181.7,498.3 L182.0,498.3 L182.3,498.4 L182.6,498.7 L182.9,498.9 L183.2,498.8 L183.5,498.8 L183.8,498.9 L184.1,499.1 L184.4,499.1 L184.7,499.1 L185.0,498.8 L185.3,498.4 L185.6,497.9 L185.9,497.3 L186.2,496.6 L186.5,495.8 L186.8,495.1 L187.1,494.5 L187.4,494.0 L187.7,493.4 L188.0,492.8 L188.3,492.1 L188.6,491.2 L188.9,490.2 L189.2,489.3 L189.5,488.6 L189.8,488.0 L190.1,487.3 L190.4,486.4 L190.7,485.4 L191.0,484.5 L191.3,483.9 L191.6,483.2 L191.9,482.5 L192.2,482.1 L192.5,481.5 L192.8,480.8 L193.1,480.1 L193.4,479.5 L193.7,479.0 L194.0,478.7 L194.3,478.7 L194.6,478.7 L194.9,478.7 L195.2,478.5 L195.5,478.3 L195.8,478.2 L196.1,478.2 L196.4,478.4 L196.7,478.5 L197.0,478.7 L197.3,479.1 L197.6,479.5 L197.9,479.6 L198.2,479.5 L198.5,479.2 L198.8,478.7 L199.1,478.1 L199.4,477.4 L199.7,476.6 L200.0,475.5 L200.3,474.5 L200.6,473.6 L200.9,472.7 L201.2,471.7 L201.5,470.7 L201.8,469.6 L202.1,468.5 L202.4,467.4 L202.7,466.5 L203.0,465.9 L203.3,465.4 L203.6,464.8 L203.9,464.2 L204.2,463.8 L204.5,463.3 L204.8,463.1 L205.1,463.1 L205.4,463.2 L205.7,463.5 L206.0,463.8 L206.3,464.4 L206.6,465.1 L206.9,465.7 L207.2,466.4 L207.5,467.6 L207.8,469.1 L208.1,470.8 L208.4,472.3 L208.7,473.7 L209.0,474.9 L209.3,475.9 L209.6,476.8 L209.9,477.8 L210.2,478.8 L210.5,479.7 L210.8,480.5 L211.1,481.2 L211.4,482.0 L211.7,482.7 L212.0,483.5 L212.3,484.1 L212.6,484.5 L212.9,484.8 L213.2,485.1 L213.5,485.6 L213.8,486.1 L214.1,486.3 L214.4,486.3 L214.7,486.2 L215.0,486.1 L215.3,485.7 L215.6,484.8 L215.9,483.7 L216.2,482.5 L216.5,481.2 L216.8,479.5 L217.1,477.1 L217.4,474.5 L217.7,471.8 L218.0,469.4 L218.3,467.3 L218.6,465.4 L218.9,463.6 L219.2,461.9 L219.5,460.4 L219.8,459.2 L220.1,458.3 L220.4,457.9 L220.7,457.8 L221.0,458.0 L221.3,458.7 L221.6,459.5 L221.9,460.6 L222.2,461.9 L222.5,463.2 L222.8,465.0 L223.1,467.7 L223.4,470.8 L223.7,473.5 L224.0,475.5 L224.3,476.7 L224.6,477.8 L224.9,478.6 L225.2,479.3 L225.5,480.2 L225.8,481.0 L226.1,481.7 L226.4,482.1 L226.7,482.5 L227.0,482.6 L227.3,482.1 L227.6,481.2 L227.9,479.9 L228.2,478.7 L228.5,477.5 L228.8,476.0 L229.1,474.3 L229.4,471.7 L229.7,468.2 L230.0,464.2 L230.3,459.9 L230.6,455.7 L230.9,451.5 L231.2,447.5 L231.5,443.3 L231.8,439.1 L232.1,435.0 L232.4,431.2 L232.7,427.8 L233.0,425.0 L233.3,422.8 L233.6,420.7 L233.9,418.8 L234.2,417.3 L234.5,415.9 L234.8,414.7 L235.1,414.1 L235.4,414.4 L235.7,415.5 L236.0,417.2 L236.3,419.3 L236.6,421.6 L236.9,423.9 L237.2,426.8 L237.5,430.7 L237.8,435.5 L238.1,440.4 L238.4,445.5 L238.7,450.5 L239.0,455.0 L239.3,459.3 L239.6,464.0 L239.9,468.8 L240.2,473.2 L240.5,476.8 L240.8,479.1 L241.1,479.6 L241.4,478.6 L241.7,476.5 L242.0,474.0 L242.3,471.3 L242.6,469.0 L242.9,466.0 L243.2,462.3 L243.5,458.2 L243.8,454.5 L244.1,451.8 L244.4,450.3 L244.7,450.3 L245.0,451.8 L245.3,454.2 L245.6,457.2 L245.9,460.6 L246.2,464.3 L246.5,469.3 L246.8,474.8 L247.1,480.0 L247.4,484.1 L247.7,486.5 L248.0,488.6 L248.3,490.6 L248.6,492.4 L248.9,493.8 L249.2,494.6 L249.5,494.6 L249.8,494.0 L250.1,493.0 L250.4,491.5 L250.7,489.8 L251.0,487.9 L251.3,485.0 L251.6,480.4 L251.9,474.5 L252.2,467.7 L252.5,460.7 L252.8,454.0 L253.1,447.8 L253.4,441.3 L253.7,434.5 L254.0,427.8 L254.3,421.7 L254.6,416.4 L254.9,412.2 L255.2,408.0 L255.5,403.8 L255.8,400.4 L256.1,398.4 L256.4,398.2 L256.7,400.0 L257.0,403.3 L257.3,407.8 L257.6,413.1 L257.9,420.7 L258.2,433.8 L258.5,449.2 L258.8,463.2 L259.1,472.8 L259.4,480.9 L259.7,488.4 L260.0,494.7 L260.3,499.2 L260.6,501.7 L260.9,503.6 L261.2,505.1 L261.5,506.5 L261.8,507.4 L262.1,507.9 L262.4,508.0 L262.7,508.1 L263.0,508.2 L263.3,508.5 L263.6,508.7 L263.9,508.9 L264.2,509.1 L264.5,509.2 L264.8,509.1 L265.1,509.1 L265.4,509.3 L265.7,509.6 L266.0,509.7 L266.3,509.7 L266.6,509.7 L266.9,509.7 L267.2,509.6 L267.5,509.5 L267.8,509.2 L268.1,508.6 L268.4,508.2 L268.7,508.0 L269.0,508.0 L269.3,507.9 L269.6,507.8 L269.9,507.7 L270.2,507.7 L270.5,507.6 L270.8,507.6 L271.1,507.6 L271.4,507.7 L271.7,507.8 L272.0,507.9 L272.3,507.9 L272.6,508.0 L272.9,508.0 L273.2,508.1 L273.5,508.4 L273.8,508.8 L274.1,509.2 L274.4,509.4 L274.7,509.5 L275.0,509.5 L275.3,509.6 L275.6,509.9 L275.9,510.2 L276.2,510.3 L276.5,510.3 L276.8,510.4 L277.1,510.6 L277.4,510.8 L277.7,511.1 L278.0,511.2 L278.3,511.0 L278.6,510.9 L278.9,511.0 L279.2,511.2 L279.5,511.2 L279.8,511.3 L280.1,511.3 L280.4,511.3 L280.7,511.2 L281.0,511.2 L281.3,511.3 L281.6,511.4 L281.9,511.6 L282.2,511.8 L282.5,512.0 L282.8,512.2 L283.1,512.3 L283.4,512.3 L283.7,512.2 L284.0,511.9 L284.3,511.8 L284.6,511.8 L284.9,512.0 L285.2,512.5 L285.5,512.8 L285.8,512.9 L286.1,512.8 L286.4,512.7 L286.7,512.7 L287.0,512.7 L287.3,512.6 L287.6,512.5 L287.9,512.5 L288.2,512.7 L288.5,512.9 L288.8,513.0 L289.1,513.0 L289.4,512.9 L289.7,513.1 L290.0,513.2 L290.3,513.2 L290.6,513.1 L290.9,513.2 L291.2,513.4 L291.5,513.4 L291.8,513.2 L292.1,513.2 L292.4,513.3 L292.7,513.1 L293.0,513.0 L293.3,513.2 L293.6,513.5 L293.9,513.5 L294.2,513.2 L294.5,513.1 L294.8,513.3 L295.1,513.4 L295.4,513.4 L295.7,513.3 L296.0,513.1 L296.3,513.0 L296.6,513.0 L296.9,513.0 L297.2,513.1 L297.5,513.3 L297.8,513.5 L298.1,513.5 L298.4,513.2 L298.7,512.8 L299.0,512.6 L299.3,512.7 L299.6,512.8 L299.9,512.7 L300.2,512.6 L300.5,512.6 L300.8,512.7 L301.1,513.1 L301.4,513.2 L301.7,513.0 L302.0,512.8 L302.3,512.7 L302.6,512.9 L302.9,513.0 L303.2,513.0 L303.5,512.9 L303.8,512.8 L304.1,512.8 L304.4,512.9 L304.7,512.9 L305.0,512.7 L305.3,512.6 L305.6,512.6 L305.9,512.6 L306.2,512.6 L306.5,512.7 L306.8,512.8 L307.1,512.8 L307.4,512.6 L307.7,512.4 L308.0,512.4 L308.3,512.3 L308.6,512.3 L308.9,512.3 L309.2,512.2 L309.5,512.3 L309.8,512.4 L310.1,512.5 L310.4,512.6 L310.7,512.7 L311.0,512.7 L311.3,512.6 L311.6,512.4 L311.9,512.4 L312.2,512.6 L312.5,512.5 L312.8,512.3 L313.1,512.2 L313.4,512.2 L313.7,512.3 L314.0,512.2 L314.3,512.1 L314.6,512.1 L314.9,512.1 L315.2,512.2 L315.5,512.2 L315.8,512.2 L316.1,512.1 L316.4,512.2 L316.7,512.4 L317.0,512.4 L317.3,512.4 L317.6,512.5 L317.9,512.5 L318.2,512.4 L318.5,512.3 L318.8,512.3 L319.1,512.4 L319.4,512.4 L319.7,512.4 L320.0,512.5 L320.3,512.4 L320.6,512.4 L320.9,512.4 L321.2,512.4 L321.5,512.6 L321.8,512.8 L322.1,512.7 L322.4,512.6 L322.7,512.6 L323.0,512.6 L323.3,512.4 L323.6,512.2 L323.9,512.1 L324.2,512.1 L324.5,512.1 L324.8,512.2 L325.1,512.2 L325.4,512.3 L325.7,512.5 L326.0,512.8 L326.3,512.9 L326.6,512.7 L326.9,512.6 L327.2,512.5 L327.5,512.2 L327.8,512.1 L328.1,512.1 L328.4,512.1 L328.7,512.3 L329.0,512.6 L329.3,512.7 L329.6,512.6 L329.9,512.5 L330.2,512.5 L330.5,512.7 L330.8,512.8 L331.1,512.7 L331.4,512.6 L331.7,512.5 L332.0,512.4 L332.3,512.3 L332.6,512.2 L332.9,512.1 L333.2,512.0 L333.5,511.8 L333.8,511.6 L334.1,511.5 L334.4,511.5 L334.7,511.6 L335.0,511.5 L335.3,511.2 L335.6,510.8 L335.9,510.5 L336.2,510.3 L336.5,510.4 L336.8,510.7 L337.1,511.0 L337.4,511.1 L337.7,511.1 L338.0,511.2 L338.3,511.4 L338.6,511.7 L338.9,511.9 L339.2,512.1 L339.5,512.2 L339.8,512.1 L340.1,512.0 L340.4,511.9 L340.7,511.8 L341.0,511.8 L341.3,512.0 L341.6,512.0 L341.9,512.0 L342.2,512.1 L342.5,512.3 L342.8,512.5 L343.1,512.5 L343.4,512.3 L343.7,512.0 L344.0,511.9 L344.3,512.0 L344.6,512.1 L344.9,512.2 L345.2,512.2 L345.5,512.1 L345.8,512.1 L346.1,512.1 L346.4,512.1 L346.7,512.1 L347.0,512.2 L347.3,512.1 L347.6,512.0 L347.9,512.2 L348.2,512.4 L348.5,512.5 L348.8,512.5 L349.1,512.4 L349.4,512.4 L349.7,512.5 L350.0,512.4 L350.3,512.3 L350.6,512.2 L350.9,512.1 L351.2,512.1 L351.5,511.9 L351.8,511.9 L352.1,512.1 L352.4,512.1 L352.7,512.0 L353.0,511.9 L353.3,511.7 L353.6,511.8 L353.9,512.0 L354.2,512.2 L354.5,512.3 L354.8,512.4 L355.1,512.4 L355.4,512.5 L355.7,512.5 L356.0,512.2 L356.3,512.0 L356.6,512.0 L356.9,512.3 L357.2,512.4 L357.5,512.5 L357.8,512.4 L358.1,512.3 L358.4,512.3 L358.7,512.1 L359.0,511.9 L359.3,511.8 L359.6,511.9 L359.9,512.0 L360.2,512.0 L360.5,512.0 L360.8,511.9 L361.1,511.9 L361.4,511.9 L361.7,512.0 L362.0,512.2 L362.3,512.3 L362.6,512.1 L362.9,511.8 L363.2,511.8 L363.5,512.1 L363.8,512.4 L364.1,512.4 L364.4,512.1 L364.7,511.9 L365.0,511.8 L365.3,511.9 L365.6,512.1 L365.9,512.2 L366.2,512.3 L366.5,512.4 L366.8,512.3 L367.1,512.2 L367.4,512.0 L367.7,511.9 L368.0,511.8 L368.3,511.9 L368.6,512.1 L368.9,512.2 L369.2,512.3 L369.5,512.2 L369.8,511.9 L370.1,511.7 L370.4,511.7 L370.7,511.7 L371.0,511.7 L371.3,511.9 L371.6,512.2 L371.9,512.4 L372.2,512.6 L372.5,512.4 L372.8,512.2 L373.1,512.1 L373.4,511.9 L373.7,511.8 L374.0,511.7 L374.3,511.9 L374.6,512.1 L374.9,512.1 L375.2,512.1 L375.5,512.3 L375.8,512.4 L376.1,512.4 L376.4,512.2 L376.7,512.0 L377.0,512.0 L377.3,512.2 L377.6,512.3 L377.9,512.2 L378.2,512.0 L378.5,511.7 L378.8,511.5 L379.1,511.5 L379.4,511.6 L379.7,511.6 L380.0,511.6 L380.3,511.7 L380.6,512.0 L380.9,512.1 L381.2,512.1 L381.5,512.1 L381.8,512.1 L382.1,512.1 L382.4,512.1 L382.7,511.8 L383.0,511.5 L383.3,511.3 L383.6,511.4 L383.9,511.7 L384.2,511.9 L384.5,512.1 L384.8,512.2 L385.1,512.3 L385.4,512.2 L385.7,512.2 L386.0,512.1 L386.3,511.8 L386.6,511.6 L386.9,511.5 L387.2,511.5 L387.5,511.6 L387.8,511.8 L388.1,511.8 L388.4,511.7 L388.7,511.7 L389.0,511.9 L389.3,512.2 L389.6,512.2 L389.9,512.1 L390.2,511.9 L390.5,511.8 L390.8,511.7 L391.1,511.7 L391.4,511.8 L391.7,511.7 L392.0,511.7 L392.3,511.6 L392.6,511.7 L392.9,511.9 L393.2,512.0 L393.5,512.1 L393.8,512.2 L394.1,512.1 L394.4,511.8 L394.7,511.6 L395.0,511.5 L395.3,511.5 L395.6,511.6 L395.9,511.8 L396.2,511.9 L396.5,512.0 L396.8,512.0 L397.1,511.8 L397.4,511.7 L397.7,511.7 L398.0,511.7 L398.3,511.6 L398.6,511.5 L398.9,511.7 L399.2,511.9 L399.5,511.9 L399.8,511.7 L400.1,511.6 L400.4,511.8 L400.7,511.9 L401.0,511.8 L401.3,511.7 L401.6,511.7 L401.9,511.7 L402.2,511.8 L402.5,511.7 L402.8,511.5 L403.1,511.5 L403.4,511.5 L403.7,511.3 L404.0,511.2 L404.3,511.1 L404.6,511.3 L404.9,511.4 L405.2,511.4 L405.5,511.1 L405.8,510.9 L406.1,511.0 L406.4,511.1 L406.7,511.1 L407.0,511.1 L407.3,511.1 L407.6,511.1 L407.9,511.2 L408.2,511.3 L408.5,511.2 L408.8,511.1 L409.1,511.2 L409.4,511.3 L409.7,511.1 L410.0,510.9 L410.3,510.8 L410.6,511.1 L410.9,511.2 L411.2,511.1 L411.5,511.1 L411.8,511.1 L412.1,511.1 L412.4,511.1 L412.7,511.0 L413.0,510.9 L413.3,510.9 L413.6,510.9 L413.9,510.9 L414.2,510.9 L414.5,510.9 L414.8,510.8 L415.1,510.8 L415.4,510.9 L415.7,510.9 L416.0,510.7 L416.3,510.6 L416.6,510.7 L416.9,510.8 L417.2,510.8 L417.5,510.7 L417.8,510.7 L418.1,510.6 L418.4,510.5 L418.7,510.5 L419.0,510.6 L419.3,510.7 L419.6,510.6 L419.9,510.5 L420.2,510.4 L420.5,510.3 L420.8,510.3 L421.1,510.4 L421.4,510.6 L421.7,510.5 L422.0,510.4 L422.3,510.5 L422.6,510.6 L422.9,510.5 L423.2,510.3 L423.5,510.2 L423.8,510.2 L424.1,510.4 L424.4,510.4 L424.7,510.4 L425.0,510.3 L425.3,510.1 L425.6,509.9 L425.9,509.9 L426.2,510.2 L426.5,510.4 L426.8,510.4 L427.1,510.3 L427.4,510.2 L427.7,510.2 L428.0,510.3 L428.3,510.4 L428.6,510.4 L428.9,510.3 L429.2,510.1 L429.5,510.0 L429.8,509.9 L430.1,510.0 L430.4,510.0 L430.7,509.9 L431.0,509.7 L431.3,509.6 L431.6,509.6 L431.9,509.7 L432.2,509.9 L432.5,509.9 L432.8,509.7 L433.1,509.5 L433.4,509.5 L433.7,509.5 L434.0,509.5 L434.3,509.6 L434.6,509.7 L434.9,509.7 L435.2,509.6 L435.5,509.4 L435.8,509.1 L436.1,509.0 L436.4,509.1 L436.7,509.3 L437.0,509.6 L437.3,509.8 L437.6,509.7 L437.9,509.4 L438.2,509.1 L438.5,508.9 L438.8,509.0 L439.1,509.2 L439.4,509.4 L439.7,509.3 L440.0,509.3 L440.3,509.3 L440.6,509.1 L440.9,508.8 L441.2,508.8 L441.5,509.0 L441.8,509.1 L442.1,508.8 L442.4,508.6 L442.7,508.5 L443.0,508.7 L443.3,508.9 L443.6,508.9 L443.9,508.7 L444.2,508.5 L444.5,508.6 L444.8,508.8 L445.1,508.8 L445.4,508.4 L445.7,507.9 L446.0,506.9 L446.3,505.6 L446.6,503.8 L446.9,501.3 L447.2,497.5 L447.5,492.3 L447.8,485.6 L448.1,477.2 L448.4,467.1 L448.7,455.4 L449.0,442.2 L449.3,428.5 L449.6,415.1 L449.9,402.9 L450.2,392.9 L450.5,385.9 L450.8,382.6 L451.1,383.3 L451.4,387.9 L451.7,396.0 L452.0,406.8 L452.3,419.5 L452.6,432.9 L452.9,446.3 L453.2,458.9 L453.5,470.4 L453.8,480.1 L454.1,487.8 L454.4,493.7 L454.7,498.2 L455.0,501.6 L455.3,504.0 L455.6,505.7 L455.9,506.7 L456.2,507.3 L456.5,507.8 L456.8,508.2 L457.1,508.3 L457.4,508.2 L457.7,508.2 L458.0,508.4 L458.3,508.5 L458.6,508.6 L458.9,508.7 L459.2,508.7 L459.5,508.5 L459.8,508.4 L460.1,508.2 L460.4,508.1 L460.7,508.1 L461.0,508.2 L461.3,508.3 L461.6,508.3 L461.9,508.3 L462.2,508.3 L462.5,508.3 L462.8,508.2 L463.1,508.1 L463.4,508.0 L463.7,508.0 L464.0,508.1 L464.3,508.1 L464.6,508.2 L464.9,508.2 L465.2,508.1 L465.5,508.0 L465.8,508.0 L466.1,508.0 L466.4,507.9 L466.7,507.8 L467.0,507.9 L467.3,507.9 L467.6,507.8 L467.9,507.8 L468.2,507.8 L468.5,507.9 L468.8,508.2 L469.1,508.4 L469.4,508.5 L469.7,508.4 L470.0,508.2 L470.3,508.0 L470.6,507.8 L470.9,507.8 L471.2,507.9 L471.5,507.9 L471.8,508.0 L472.1,508.1 L472.4,508.2 L472.7,508.2 L473.0,508.1 L473.3,508.0 L473.6,508.0 L473.9,508.0 L474.2,507.9 L474.5,507.8 L474.8,507.8 L475.1,508.0 L475.4,508.1 L475.7,507.9 L476.0,507.8" fill="none" stroke="#111" stroke-width="1.28" stroke-linejoin="round"/>
</g>
</svg>
</body></html>
